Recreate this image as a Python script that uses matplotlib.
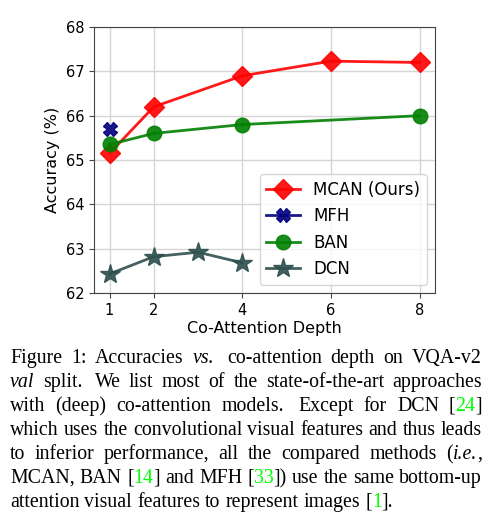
import numpy as np
import matplotlib
matplotlib.use('Agg')
import matplotlib.pyplot as plt

# data
mcan_depth = [1, 2, 4, 6, 8]
mcan_acc = [65.15, 66.2, 66.9, 67.23, 67.2]
mfh_depth = [1]
mfh_acc = [65.7]
ban_depth = [1, 2, 4, 8]
ban_acc = [65.35, 65.6, 65.8, 66.0]
dcn_depth = [1, 2, 3, 4]
dcn_acc = [62.43, 62.82, 62.92, 62.68]
x_ticks = [1, 2, 4, 6, 8]

W, H = 493, 516
fig = plt.figure(figsize=(W / 100, H / 100), dpi=100)
ax = fig.add_axes([94 / W, 1 - 293 / H, 341 / W, 266 / H])

ax.plot(mcan_depth, mcan_acc, color='red', marker='D', ms=10, lw=2, alpha=0.9, label='MCAN (Ours)')
ax.plot(mfh_depth, mfh_acc, color='navy', marker='X', ms=10, lw=2, alpha=0.9, label='MFH')
ax.plot(ban_depth, ban_acc, color='green', marker='o', ms=10.5, lw=2, alpha=0.9, label='BAN')
ax.plot(dcn_depth, dcn_acc, color='darkslategray', marker='*', ms=14.5, lw=2, alpha=0.9, label='DCN')

ax.set_ylim(62, 68)
ax.set_xticks(x_ticks)
ax.tick_params(labelsize=10.5, color='#444444')
ax.set_xlabel('Co-Attention Depth', fontsize=11.5, labelpad=2)
ax.set_ylabel('Accuracy (%)', fontsize=11.5)
ax.grid(color='#d5d5d5', linewidth=1)
for s in ax.spines.values():
    s.set_color('#444444')
ax.legend(loc='lower right', fontsize=12)

# caption, justified by hand
size = 14.3
left, right = 10, 482
base0, step = 363, 24
G = 'lime'
lines = [
    [[('Figure', 0, 'k')], [('1:', 0, 'k')], [('Accuracies', 0, 'k')], [('vs.', 1, 'k')],
     [('co-attention', 0, 'k')], [('depth', 0, 'k')], [('on', 0, 'k')], [('VQA-v2', 0, 'k')]],
    [[('val', 1, 'k')], [('split.', 0, 'k')], [('We', 0, 'k')], [('list', 0, 'k')], [('most', 0, 'k')],
     [('of', 0, 'k')], [('the', 0, 'k')], [('state-of-the-art', 0, 'k')], [('approaches', 0, 'k')]],
    [[('with', 0, 'k')], [('(deep)', 0, 'k')], [('co-attention', 0, 'k')], [('models.', 0, 'k')],
     [('Except', 0, 'k')], [('for', 0, 'k')], [('DCN', 0, 'k')], [('[', 0, 'k'), ('24', 0, G), (']', 0, 'k')]],
    [[(w, 0, 'k')] for w in 'which uses the convolutional visual features and thus leads'.split()],
    [[(w, 0, 'k')] for w in 'to inferior performance, all the compared methods'.split()]
    + [[('(', 0, 'k'), ('i.e.', 1, 'k'), (',', 0, 'k')]],
    [[('MCAN,', 0, 'k')], [('BAN', 0, 'k')], [('[', 0, 'k'), ('14', 0, G), (']', 0, 'k')], [('and', 0, 'k')],
     [('MFH', 0, 'k')], [('[', 0, 'k'), ('33', 0, G), ('])', 0, 'k')], [('use', 0, 'k')], [('the', 0, 'k')],
     [('same', 0, 'k')], [('bottom-up', 0, 'k')]],
    [[(w, 0, 'k')] for w in 'attention visual features to represent images'.split()]
    + [[('[', 0, 'k'), ('1', 0, G), ('].', 0, 'k')]],
]

renderer = fig.canvas.get_renderer()


def seg_text(x, y, s, it, c):
    return fig.text(x / W, 1 - y / H, s, fontsize=size, family='Liberation Serif',
                    style='italic' if it else 'normal', color=c, va='baseline', ha='left')


sp = seg_text(0, 0, 'a a', 0, 'k')
w_sp = sp.get_window_extent(renderer).width
sp2 = seg_text(0, 0, 'aa', 0, 'k')
w_sp -= sp2.get_window_extent(renderer).width
sp.remove()
sp2.remove()

for i, words in enumerate(lines):
    y = base0 + i * step
    placed = []
    total = 0
    for word in words:
        ts = [seg_text(0, y, s, it, c) for s, it, c in word]
        widths = [t.get_window_extent(renderer).width for t in ts]
        placed.append((ts, widths))
        total += sum(widths)
    # a bit more room after a full stop, like LaTeX does
    weights = []
    for word in words[:-1]:
        last = word[-1][0]
        weights.append(1.5 if last.endswith('.') and last != 'i.e.' else 1.0)
    if i == len(lines) - 1:
        gap = [w_sp * wt for wt in weights]
    else:
        unit = ((right - left) - total) / sum(weights)
        gap = [unit * wt for wt in weights]
    x = left
    for k, (ts, widths) in enumerate(placed):
        for t, w in zip(ts, widths):
            t.set_x(x / W)
            x += w
        if k < len(gap):
            x += gap[k]

fig.savefig('out.png', dpi=100)
